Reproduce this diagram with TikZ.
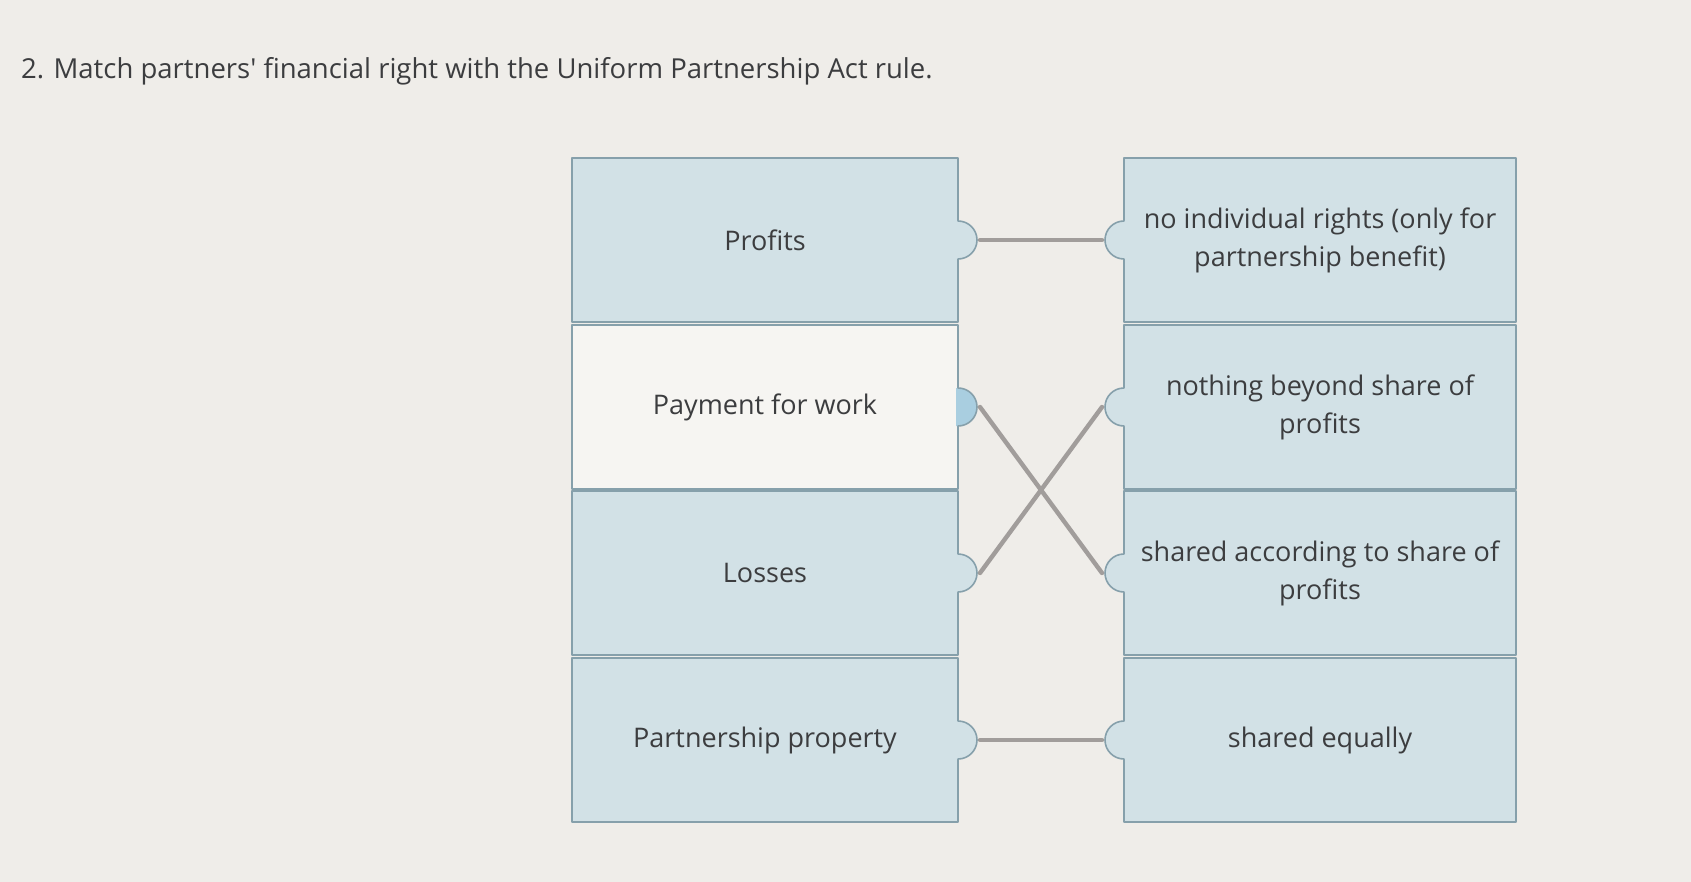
\documentclass[tikz,border=0pt]{standalone}
\usepackage{fontspec}
\setmainfont{Open Sans}
\definecolor{paper}{HTML}{EFEDE9}
\definecolor{cardfill}{HTML}{D2E1E6}
\definecolor{cardedge}{HTML}{86A0AB}
\definecolor{pickfill}{HTML}{F6F5F2}
\definecolor{picktab}{HTML}{A9CEE0}
\definecolor{linkgray}{HTML}{A19D9B}
\definecolor{ink}{HTML}{3C3D3F}
\tikzset{
  card/.style={draw=cardedge, fill=cardfill, line width=0.8pt, inner sep=0pt, outer sep=0pt,
    minimum height=82pt, align=center, text=ink},
  leftcard/.style={card, minimum width=193pt},
  rightcard/.style={card, minimum width=196pt},
  tabedge/.style={draw=cardedge, line width=0.8pt},
  link/.style={draw=linkgray, line width=2.2pt}
}
\begin{document}
\begin{tikzpicture}[x=0.5pt, y=-0.5pt, font=\fontsize{13.5}{19}\selectfont, line join=round, line cap=round]
				\useasboundingbox[fill=paper] (0,0) rectangle (1691,882);
				\node[anchor=west, text=ink, font=\fontsize{13.75}{16}\selectfont] (title) at (14,71) {2. Match partners\textquotesingle\ financial right with the Uniform Partnership Act rule.};
				\node[leftcard] (profits) at (765,240) {Profits};
				\node[leftcard, fill=pickfill] (payment) at (765,407) {Payment for work};
				\node[leftcard] (losses) at (765,573) {Losses};
				\node[leftcard] (property) at (765,740) {Partnership property};
				\node[rightcard] (norights) at (1320,240) {no individual rights (only for\\partnership benefit)};
				\node[rightcard] (nobeyond) at (1320,407) {nothing beyond share of\\profits};
				\node[rightcard] (sharedprof) at (1320,573) {shared according to share of\\profits};
				\node[rightcard] (sharedeq) at (1320,740) {shared equally};
				\fill[cardfill] ([shift={(-1pt,9.5pt)}]profits.east) -- ([yshift=9.5pt]profits.east) arc[start angle=90, end angle=-90, radius=9.5pt] -- ([shift={(-1pt,-9.5pt)}]profits.east) -- cycle;
				\draw[tabedge] ([yshift=9.5pt]profits.east) arc[start angle=90, end angle=-90, radius=9.5pt];
				\fill[picktab] ([shift={(-1pt,9.5pt)}]payment.east) -- ([yshift=9.5pt]payment.east) arc[start angle=90, end angle=-90, radius=9.5pt] -- ([shift={(-1pt,-9.5pt)}]payment.east) -- cycle;
				\draw[tabedge] ([yshift=9.5pt]payment.east) arc[start angle=90, end angle=-90, radius=9.5pt];
				\fill[cardfill] ([shift={(-1pt,9.5pt)}]losses.east) -- ([yshift=9.5pt]losses.east) arc[start angle=90, end angle=-90, radius=9.5pt] -- ([shift={(-1pt,-9.5pt)}]losses.east) -- cycle;
				\draw[tabedge] ([yshift=9.5pt]losses.east) arc[start angle=90, end angle=-90, radius=9.5pt];
				\fill[cardfill] ([shift={(-1pt,9.5pt)}]property.east) -- ([yshift=9.5pt]property.east) arc[start angle=90, end angle=-90, radius=9.5pt] -- ([shift={(-1pt,-9.5pt)}]property.east) -- cycle;
				\draw[tabedge] ([yshift=9.5pt]property.east) arc[start angle=90, end angle=-90, radius=9.5pt];
				\fill[cardfill] ([shift={(1pt,9.5pt)}]norights.west) -- ([yshift=9.5pt]norights.west) arc[start angle=90, end angle=270, radius=9.5pt] -- ([shift={(1pt,-9.5pt)}]norights.west) -- cycle;
				\draw[tabedge] ([yshift=9.5pt]norights.west) arc[start angle=90, end angle=270, radius=9.5pt];
				\fill[cardfill] ([shift={(1pt,9.5pt)}]nobeyond.west) -- ([yshift=9.5pt]nobeyond.west) arc[start angle=90, end angle=270, radius=9.5pt] -- ([shift={(1pt,-9.5pt)}]nobeyond.west) -- cycle;
				\draw[tabedge] ([yshift=9.5pt]nobeyond.west) arc[start angle=90, end angle=270, radius=9.5pt];
				\fill[cardfill] ([shift={(1pt,9.5pt)}]sharedprof.west) -- ([yshift=9.5pt]sharedprof.west) arc[start angle=90, end angle=270, radius=9.5pt] -- ([shift={(1pt,-9.5pt)}]sharedprof.west) -- cycle;
				\draw[tabedge] ([yshift=9.5pt]sharedprof.west) arc[start angle=90, end angle=270, radius=9.5pt];
				\fill[cardfill] ([shift={(1pt,9.5pt)}]sharedeq.west) -- ([yshift=9.5pt]sharedeq.west) arc[start angle=90, end angle=270, radius=9.5pt] -- ([shift={(1pt,-9.5pt)}]sharedeq.west) -- cycle;
				\draw[tabedge] ([yshift=9.5pt]sharedeq.west) arc[start angle=90, end angle=270, radius=9.5pt];
				\draw[link] ([xshift=11pt]profits.east) -- ([xshift=-11pt]norights.west);
				\draw[link] ([xshift=11pt]payment.east) -- ([xshift=-11pt]sharedprof.west);
				\draw[link] ([xshift=11pt]losses.east) -- ([xshift=-11pt]nobeyond.west);
				\draw[link] ([xshift=11pt]property.east) -- ([xshift=-11pt]sharedeq.west);
			\end{tikzpicture}
\end{document}
